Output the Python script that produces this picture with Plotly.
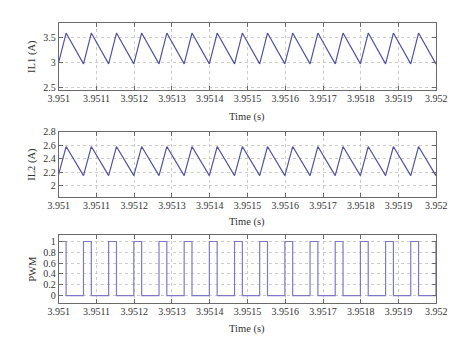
import plotly.graph_objects as go

# vertex times, microseconds after 3.951 s
valley_us = [-1.0, 65.7, 132.3, 199.0, 265.7, 332.3, 399.0, 465.7, 532.3, 599.0, 665.7, 732.3, 799.0, 865.7, 932.3, 999.0]
peak_us = [19.7, 86.4, 153.0, 219.7, 286.4, 353.0, 419.7, 486.4, 553.0, 619.7, 686.4, 753.0, 819.7, 886.4, 953.0]

il1_valley = 2.97
il1_peak = 3.59
il2_valley = 2.15
il2_peak = 2.58

x_ticks = [3.951, 3.9511, 3.9512, 3.9513, 3.9514, 3.9515, 3.9516, 3.9517, 3.9518, 3.9519, 3.952]
x_ticktext = ["3.951", "3.9511", "3.9512", "3.9513", "3.9514", "3.9515", "3.9516", "3.9517", "3.9518", "3.9519", "3.952"]
y1_ticks = [2.5, 3, 3.5]
y2_ticks = [2, 2.2, 2.4, 2.6, 2.8]
y3_ticks = [0, 0.2, 0.4, 0.6, 0.8, 1]

T0 = 3.951

# build vertex sequences
t_vert, il1_vals, il2_vals, pwm_vals = [], [], [], []
for i, v in enumerate(valley_us):
    t_vert.append(T0 + v * 1e-6)
    il1_vals.append(il1_valley)
    il2_vals.append(il2_valley)
    pwm_vals.append(1)
    if i < len(peak_us):
        t_vert.append(T0 + peak_us[i] * 1e-6)
        il1_vals.append(il1_peak)
        il2_vals.append(il2_peak)
        pwm_vals.append(0)
t_end = T0 + 1010e-6
t_il = t_vert + [t_end]
il1_full = il1_vals + [il1_valley + (il1_peak - il1_valley) * 11 / 20.7]
il2_full = il2_vals + [il2_valley + (il2_peak - il2_valley) * 11 / 20.7]
pwm_full = pwm_vals + [1]

W, H = 474, 353
line_col = "#5252a2"
pwm_col = "#7f78c8"
tick_font = dict(family="Liberation Serif, Times New Roman, serif", size=10, color="#333333")
title_font = dict(family="Liberation Serif, Times New Roman, serif", size=10.5, color="#333333")

fig = go.Figure()
fig.add_trace(go.Scatter(x=t_il, y=il1_full, mode="lines", line=dict(color=line_col, width=1.2), xaxis="x", yaxis="y"))
fig.add_trace(go.Scatter(x=t_il, y=il2_full, mode="lines", line=dict(color=line_col, width=1.2), xaxis="x2", yaxis="y2"))
fig.add_trace(go.Scatter(x=t_il, y=pwm_full, mode="lines", line=dict(color=pwm_col, width=1.2, shape="hv"), xaxis="x3", yaxis="y3"))

xdom = [50 / W, 446 / W]
def ydom(top, bot):
    return [1 - bot / H, 1 - top / H]

panels = [(17, 86, [2.45, 3.8], y1_ticks), (129, 195.5, [1.84, 2.8], y2_ticks), (235, 305, [-0.14, 1.12], y3_ticks)]
common_ax = dict(showline=True, linecolor="#6a6a6a", linewidth=1, mirror="allticks", ticks="inside", ticklen=4,
                 tickcolor="#6a6a6a", showgrid=True, gridcolor="#cccccc", griddash="dot", gridwidth=1,
                 zeroline=False, tickfont=tick_font)
layout = dict(width=W, height=H, margin=dict(l=0, r=0, t=0, b=0), paper_bgcolor="white", plot_bgcolor="white",
              showlegend=False, font=tick_font)
names = ["", "2", "3"]
ylabels = ["IL1 (A)", "IL2 (A)", "PWM"]
title_y = [113.5, 222, 331]
annotations = []
for i, (top, bot, yr, yt) in enumerate(panels):
    n = names[i]
    layout["xaxis" + n] = dict(common_ax, domain=xdom, range=[3.951, 3.952], tickvals=x_ticks, ticktext=x_ticktext,
                               anchor="y" + n, ticklabelstandoff=-1)
    layout["yaxis" + n] = dict(common_ax, domain=ydom(top, bot), range=yr, tickvals=yt, anchor="x" + n)
    annotations.append(dict(text="Time (s)", xref="paper", yref="paper", x=248 / W, y=1 - title_y[i] / H,
                            showarrow=False, font=title_font, xanchor="center", yanchor="middle"))
    annotations.append(dict(text=ylabels[i], xref="paper", yref="paper", x=21.7 / W, y=1 - (top + bot) / 2 / H,
                            showarrow=False, font=title_font, textangle=-90, xanchor="center", yanchor="middle"))
layout["annotations"] = annotations
fig.update_layout(**layout)
fig.write_html("out.html")
